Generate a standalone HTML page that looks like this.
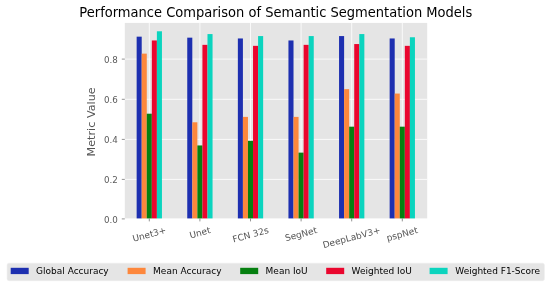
<!DOCTYPE html><html><head><meta charset="utf-8"><title>Performance Comparison of Semantic Segmentation Models</title>
<style>html,body{margin:0;padding:0;background:#fff;overflow:hidden}svg{display:block}text{font-family:"DejaVu Sans","Liberation Sans",sans-serif}</style></head><body>
<svg width="550" height="286" viewBox="0 0 550 286">
<rect width="550" height="286" fill="#ffffff"/>
<rect x="124.8" y="22.9" width="302.40" height="195.50" fill="#e5e5e5"/>
<line x1="124.8" x2="427.2" y1="179.40" y2="179.40" stroke="#ffffff" stroke-width="0.8"/>
<line x1="124.8" x2="427.2" y1="139.40" y2="139.40" stroke="#ffffff" stroke-width="0.8"/>
<line x1="124.8" x2="427.2" y1="99.30" y2="99.30" stroke="#ffffff" stroke-width="0.8"/>
<line x1="124.8" x2="427.2" y1="59.10" y2="59.10" stroke="#ffffff" stroke-width="0.8"/>
<line x1="149.30" x2="149.30" y1="22.9" y2="218.4" stroke="#ffffff" stroke-width="0.8"/>
<line x1="199.90" x2="199.90" y1="22.9" y2="218.4" stroke="#ffffff" stroke-width="0.8"/>
<line x1="250.50" x2="250.50" y1="22.9" y2="218.4" stroke="#ffffff" stroke-width="0.8"/>
<line x1="301.10" x2="301.10" y1="22.9" y2="218.4" stroke="#ffffff" stroke-width="0.8"/>
<line x1="351.70" x2="351.70" y1="22.9" y2="218.4" stroke="#ffffff" stroke-width="0.8"/>
<line x1="402.30" x2="402.30" y1="22.9" y2="218.4" stroke="#ffffff" stroke-width="0.8"/>
<rect x="136.65" y="36.66" width="5.06" height="181.74" fill="#1d2fb0"/>
<rect x="141.71" y="53.63" width="5.06" height="164.77" fill="#fd873c"/>
<rect x="146.77" y="113.71" width="5.06" height="104.69" fill="#068010"/>
<rect x="151.83" y="40.46" width="5.06" height="177.94" fill="#ea062e"/>
<rect x="156.89" y="31.28" width="5.06" height="187.12" fill="#0bd4be"/>
<rect x="187.25" y="37.66" width="5.06" height="180.74" fill="#1d2fb0"/>
<rect x="192.31" y="122.29" width="5.06" height="96.11" fill="#fd873c"/>
<rect x="197.37" y="145.45" width="5.06" height="72.95" fill="#068010"/>
<rect x="202.43" y="44.85" width="5.06" height="173.55" fill="#ea062e"/>
<rect x="207.49" y="34.07" width="5.06" height="184.33" fill="#0bd4be"/>
<rect x="237.85" y="38.46" width="5.06" height="179.94" fill="#1d2fb0"/>
<rect x="242.91" y="116.90" width="5.06" height="101.50" fill="#fd873c"/>
<rect x="247.97" y="140.86" width="5.06" height="77.54" fill="#068010"/>
<rect x="253.03" y="45.85" width="5.06" height="172.55" fill="#ea062e"/>
<rect x="258.09" y="36.07" width="5.06" height="182.33" fill="#0bd4be"/>
<rect x="288.45" y="40.46" width="5.06" height="177.94" fill="#1d2fb0"/>
<rect x="293.51" y="116.90" width="5.06" height="101.50" fill="#fd873c"/>
<rect x="298.57" y="152.63" width="5.06" height="65.77" fill="#068010"/>
<rect x="303.63" y="44.85" width="5.06" height="173.55" fill="#ea062e"/>
<rect x="308.69" y="36.07" width="5.06" height="182.33" fill="#0bd4be"/>
<rect x="339.05" y="36.07" width="5.06" height="182.33" fill="#1d2fb0"/>
<rect x="344.11" y="89.16" width="5.06" height="129.24" fill="#fd873c"/>
<rect x="349.17" y="126.68" width="5.06" height="91.72" fill="#068010"/>
<rect x="354.23" y="44.05" width="5.06" height="174.35" fill="#ea062e"/>
<rect x="359.29" y="34.07" width="5.06" height="184.33" fill="#0bd4be"/>
<rect x="389.65" y="38.46" width="5.06" height="179.94" fill="#1d2fb0"/>
<rect x="394.71" y="93.55" width="5.06" height="124.85" fill="#fd873c"/>
<rect x="399.77" y="126.68" width="5.06" height="91.72" fill="#068010"/>
<rect x="404.83" y="45.85" width="5.06" height="172.55" fill="#ea062e"/>
<rect x="409.89" y="37.26" width="5.06" height="181.14" fill="#0bd4be"/>
<line x1="121.80" x2="124.8" y1="218.90" y2="218.90" stroke="#666666" stroke-width="0.7"/>
<text transform="translate(117.90,223.10) scale(0.97,1.05)" font-size="9" fill="#5a5a5a" text-anchor="end">0.0</text>
<line x1="121.80" x2="124.8" y1="179.40" y2="179.40" stroke="#666666" stroke-width="0.7"/>
<text transform="translate(117.90,183.10) scale(0.97,1.05)" font-size="9" fill="#5a5a5a" text-anchor="end">0.2</text>
<line x1="121.80" x2="124.8" y1="139.40" y2="139.40" stroke="#666666" stroke-width="0.7"/>
<text transform="translate(117.90,143.10) scale(0.97,1.05)" font-size="9" fill="#5a5a5a" text-anchor="end">0.4</text>
<line x1="121.80" x2="124.8" y1="99.30" y2="99.30" stroke="#666666" stroke-width="0.7"/>
<text transform="translate(117.90,103.00) scale(0.97,1.05)" font-size="9" fill="#5a5a5a" text-anchor="end">0.6</text>
<line x1="121.80" x2="124.8" y1="59.10" y2="59.10" stroke="#666666" stroke-width="0.7"/>
<text transform="translate(117.90,62.80) scale(0.97,1.05)" font-size="9" fill="#5a5a5a" text-anchor="end">0.8</text>
<line x1="149.30" x2="149.30" y1="218.4" y2="221.40" stroke="#666666" stroke-width="0.7"/>
<text transform="translate(149.30,234.06) rotate(-15)" y="3.40" font-size="9" fill="#555555" text-anchor="middle">Unet3+</text>
<line x1="199.90" x2="199.90" y1="218.4" y2="221.40" stroke="#666666" stroke-width="0.7"/>
<text transform="translate(199.90,232.35) rotate(-15)" y="3.40" font-size="9" fill="#555555" text-anchor="middle">Unet</text>
<line x1="250.50" x2="250.50" y1="218.4" y2="221.40" stroke="#666666" stroke-width="0.7"/>
<text transform="translate(250.50,234.40) rotate(-15)" y="3.40" font-size="9" fill="#555555" text-anchor="middle">FCN 32s</text>
<line x1="301.10" x2="301.10" y1="218.4" y2="221.40" stroke="#666666" stroke-width="0.7"/>
<text transform="translate(301.10,234.74) rotate(-15)" y="2.45" font-size="9" fill="#555555" text-anchor="middle">SegNet</text>
<line x1="351.70" x2="351.70" y1="218.4" y2="221.40" stroke="#666666" stroke-width="0.7"/>
<text transform="translate(351.70,238.19) rotate(-15)" y="2.45" font-size="9" fill="#555555" text-anchor="middle">DeepLabV3+</text>
<line x1="402.30" x2="402.30" y1="218.4" y2="221.40" stroke="#666666" stroke-width="0.7"/>
<text transform="translate(402.30,234.63) rotate(-15)" y="2.45" font-size="9" fill="#555555" text-anchor="middle">pspNet</text>
<text transform="translate(275.8,16.8) scale(1,1.05)" font-size="13.05" fill="#000000" text-anchor="middle">Performance Comparison of Semantic Segmentation Models</text>
<text transform="translate(95.4,121.9) rotate(-90) scale(1.04,1)" font-size="10.8" fill="#555555" text-anchor="middle">Metric Value</text>
<rect x="7.1" y="263.2" width="537.3" height="17.5" rx="1.8" ry="1.8" fill="#e5e5e5" stroke="#ececec" stroke-width="0.5"/>
<rect x="10.7" y="267.8" width="18" height="6.3" fill="#1d2fb0"/>
<text transform="translate(36.1,274.4) scale(1,1.05)" font-size="9" fill="#000000">Global Accuracy</text>
<rect x="127.6" y="267.8" width="18" height="6.3" fill="#fd873c"/>
<text transform="translate(153.1,274.4) scale(1,1.05)" font-size="9" fill="#000000">Mean Accuracy</text>
<rect x="240.2" y="267.8" width="18" height="6.3" fill="#068010"/>
<text transform="translate(265.6,274.4) scale(1,1.05)" font-size="9" fill="#000000">Mean IoU</text>
<rect x="326.2" y="267.8" width="18" height="6.3" fill="#ea062e"/>
<text transform="translate(351.6,274.4) scale(1,1.05)" font-size="9" fill="#000000">Weighted IoU</text>
<rect x="429.6" y="267.8" width="18" height="6.3" fill="#0bd4be"/>
<text transform="translate(455.3,274.4) scale(1,1.05)" font-size="9" fill="#000000">Weighted F1-Score</text>
</svg></body></html>
